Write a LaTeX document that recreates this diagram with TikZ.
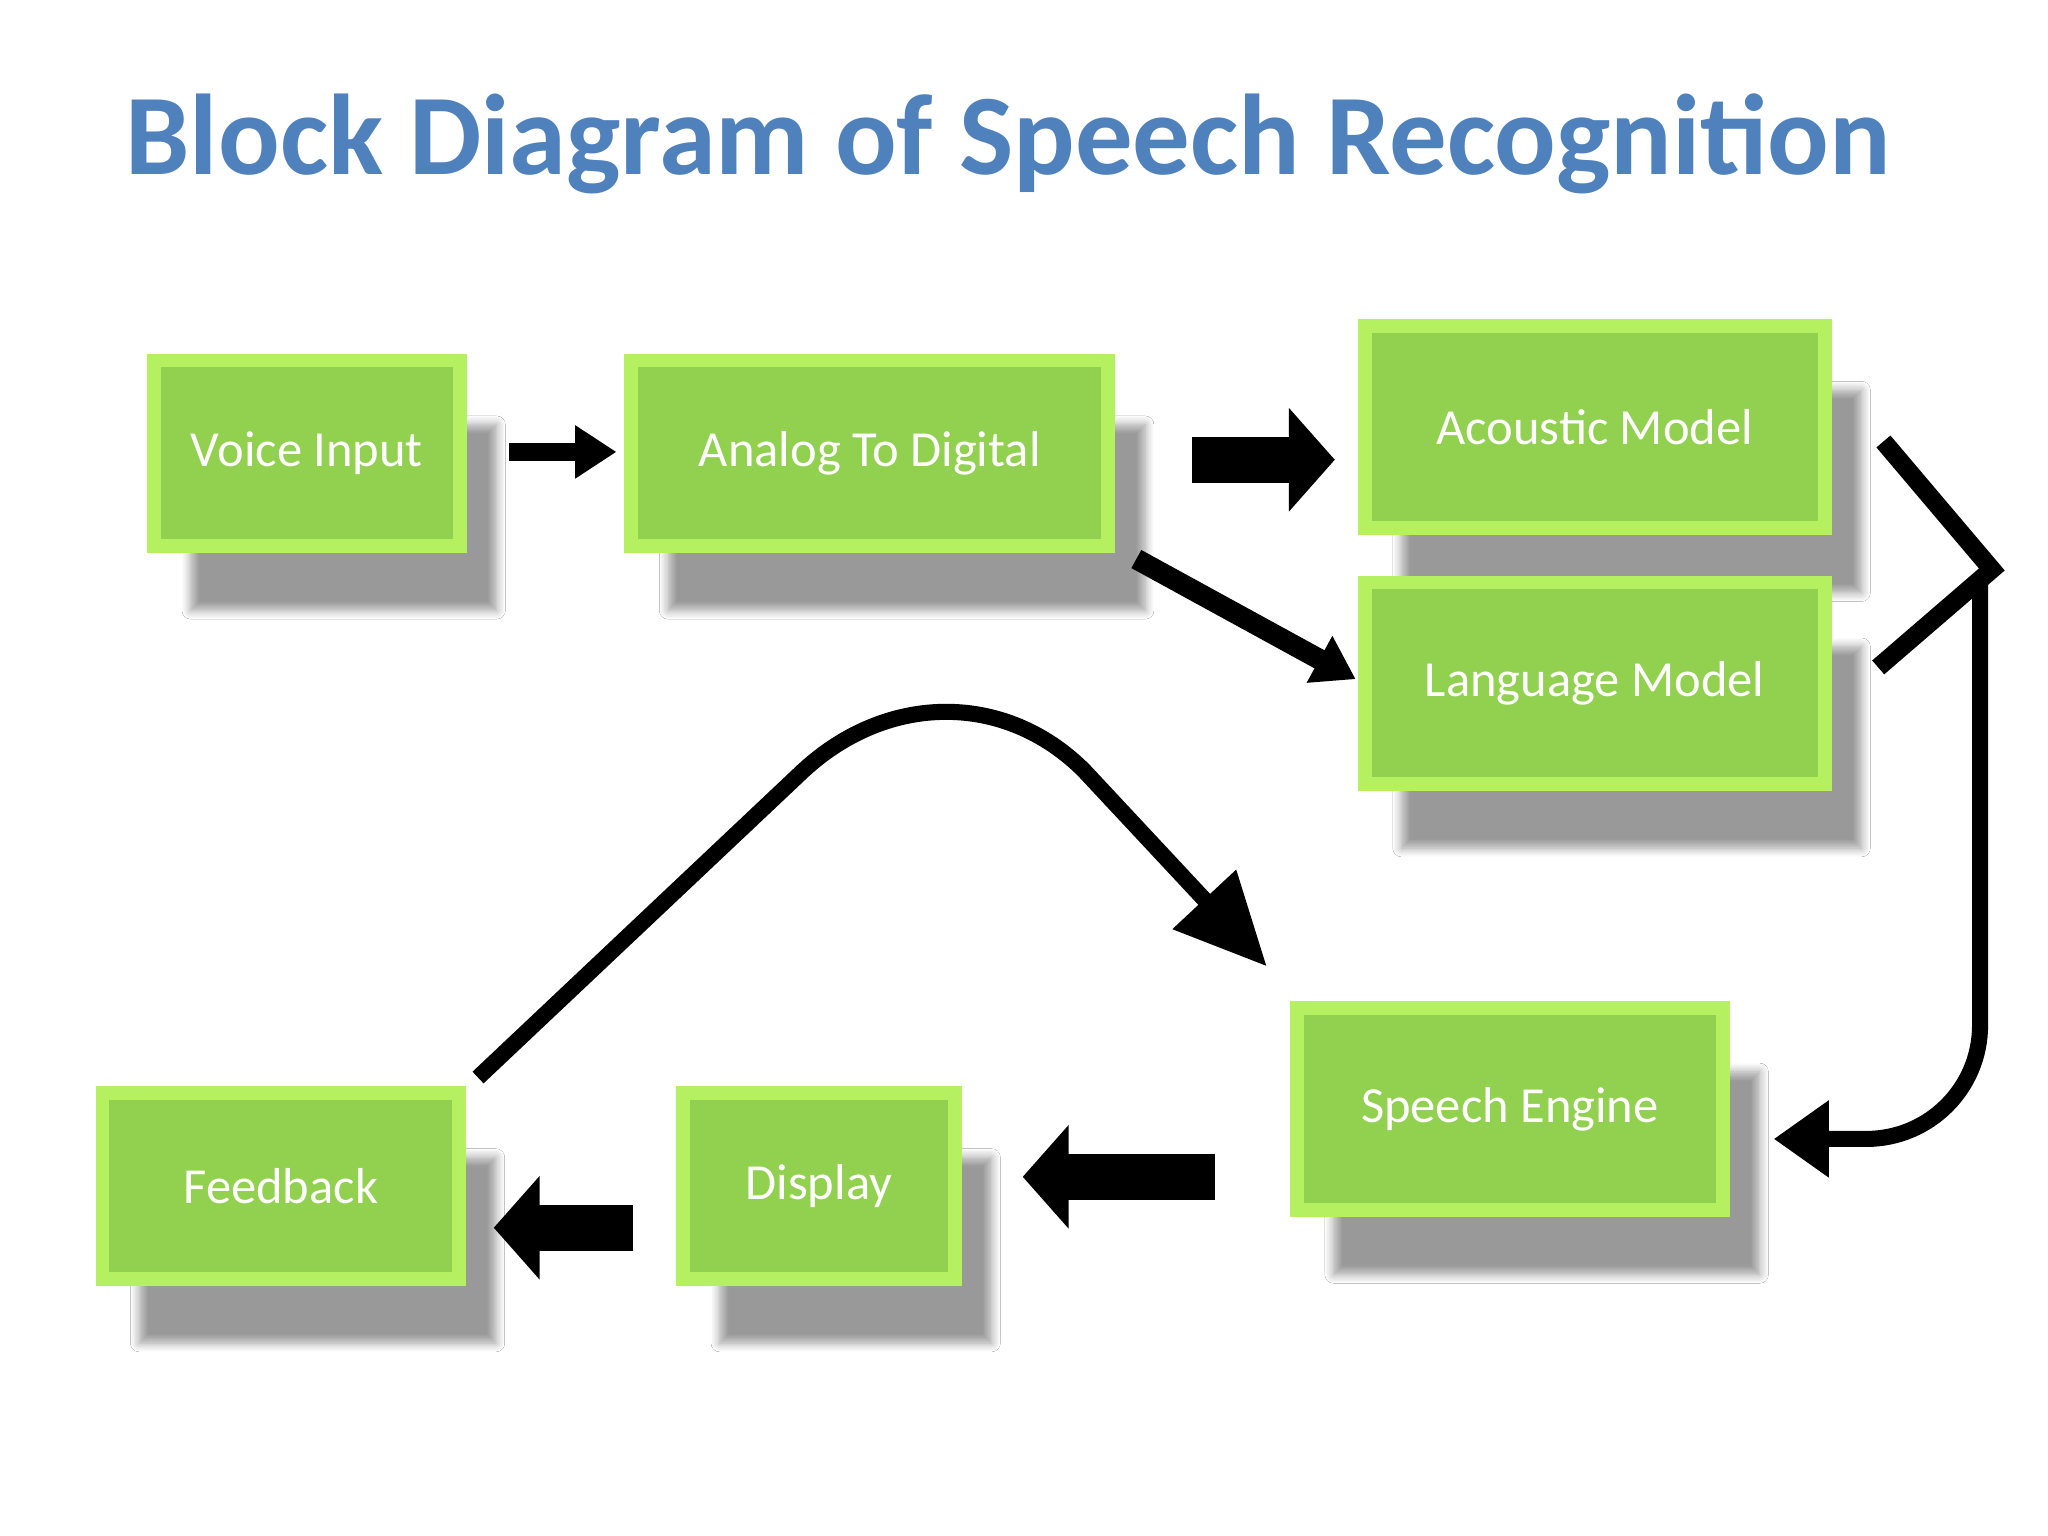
\documentclass[tikz,border=0pt]{standalone}
\usepackage{fontspec}
\setmainfont{Carlito}
\usetikzlibrary{arrows.meta,shadows.blur}
\definecolor{gbox}{HTML}{92D050}
\definecolor{gedge}{HTML}{B5F060}
\definecolor{gdark}{HTML}{7CBF3A}
\definecolor{tblue}{HTML}{4F81BD}
\begin{document}
\begin{tikzpicture}[x=0.01cm,y=-0.01cm,
  box/.style={draw=gedge,line width=3pt,fill=gbox,text=white,font=\fontsize{11}{13}\selectfont,inner sep=0pt,
    blur shadow={shadow xshift=8pt,shadow yshift=-14pt,shadow blur steps=8,shadow opacity=40}},
  conn/.style={line width=#1,-{Triangle[length=9pt,width=11pt]}},
  plain/.style={line width=#1}]
\useasboundingbox (0,0) rectangle (1568,1176);
\fill[white] (0,0) rectangle (1568,1176);
\node[text=tblue,font=\bfseries\fontsize{25}{28}\selectfont] (title) at (772,110) {Block Diagram of Speech Recognition};
\node[box,minimum width=2.34cm,minimum height=1.42cm] (vi) at (235,347) {Voice Input};
\node[box,minimum width=3.65cm,minimum height=1.42cm] (ad) at (666,347) {Analog To Digital};
\node[box,minimum width=3.52cm,minimum height=1.55cm] (am) at (1221,327) {Acoustic Model};
\node[box,minimum width=3.52cm,minimum height=1.54cm] (lm) at (1221,523) {Language Model};
\node[box,minimum width=3.26cm,minimum height=1.55cm] (se) at (1156,849) {Speech Engine};
\node[box,minimum width=2.08cm,minimum height=1.42cm] (di) at (627,908) {Display};
\node[box,minimum width=2.73cm,minimum height=1.42cm] (fb) at (215,908) {Feedback};
\coordinate (a1) at (390,346); \coordinate (a2) at (472,346);
\draw[conn=4pt] (a1) -- (a2);
\coordinate (b1) at (913,352); \coordinate (b2) at (1022,352);
\draw[line width=10pt,-{Triangle[length=10pt,width=22pt]}] (b1) -- (b2);
\coordinate (c1) at (870,428); \coordinate (c2) at (1038,520);
\draw[conn=4.5pt] (c1) -- (c2);
\coordinate (k1) at (1442,338); \coordinate (k2) at (1525,436); \coordinate (k3) at (1438,511);
\draw[plain=4pt] (k1) -- (k2) -- (k3);
\coordinate (r1) at (1516,445); \coordinate (r2) at (1358,872);
\draw[line width=3.5pt,-{Triangle[length=12pt,width=16pt]}] (r1) -- (1516,785) arc[start angle=0,end angle=90,radius=87] -- (r2);
\coordinate (s1) at (930,901); \coordinate (s2) at (783,901);
\draw[line width=10pt,-{Triangle[length=10pt,width=22pt]}] (s1) -- (s2);
\coordinate (d1) at (485,940); \coordinate (d2) at (378,940);
\draw[line width=10pt,-{Triangle[length=10pt,width=22pt]}] (d1) -- (d2);
\coordinate (f1) at (366,825); \coordinate (f2) at (970,740);
\draw[line width=3.5pt,-{Triangle[length=20pt,width=18pt]}] (f1) -- (615,590) .. controls (680,530) and (770,530) .. (830,590) -- (f2);
\end{tikzpicture}
\end{document}
